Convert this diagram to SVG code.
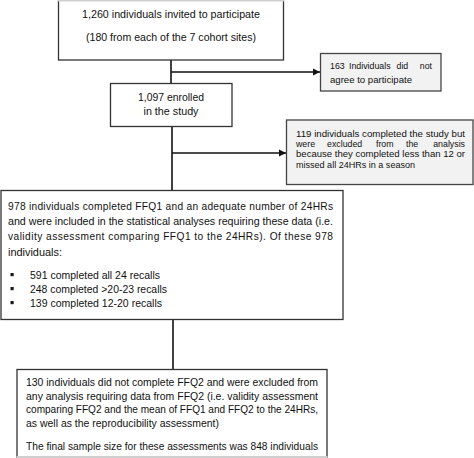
<svg xmlns="http://www.w3.org/2000/svg" width="474" height="458" viewBox="0 0 474 458">
<style>
  .box { fill: #ffffff; stroke: #333333; stroke-width: 1.3; }
  .side { fill: #f2f2f2; stroke: #444444; stroke-width: 1.3; }
  .t { font-family: "Liberation Sans", Arial, sans-serif; font-size: 10.2px; fill: #111111; }
  .s { font-family: "Liberation Sans", Arial, sans-serif; font-size: 8.8px; fill: #111111; }
  .c { text-anchor: middle; }
  .e { text-anchor: end; }
  .conn { fill: none; stroke: #111111; stroke-width: 1.6; }
  .edge { fill: #cfcfcf; }
</style>
<defs>
  <marker id="arrow" viewBox="0 0 10 10" refX="10" refY="5" markerWidth="4.5" markerHeight="4.5" orient="auto" markerUnits="strokeWidth">
    <path d="M0,0 L10,5 L0,10 z" fill="#111111"/>
  </marker>
</defs>
<rect width="474" height="458" fill="#ffffff"/>

<g id="connectors">
  <path class="conn" d="M171,60 V83"/>
  <path class="conn" d="M171,72 H320" marker-end="url(#arrow)"/>
  <path class="conn" d="M172,126 V190"/>
  <path class="conn" d="M172,153 H286" marker-end="url(#arrow)"/>
  <path class="conn" d="M173,320 V369"/>
</g>

<g id="node-invited">
  <rect class="box" x="58.5" y="-2" width="225" height="62"/>
  <rect class="edge" x="58" y="0" width="226" height="1.5"/>
  <text class="t c" x="171" y="17.5" textLength="178" lengthAdjust="spacingAndGlyphs">1,260 individuals invited to participate</text>
  <text class="t c" x="171" y="41" textLength="170" lengthAdjust="spacingAndGlyphs">(180 from each of the 7 cohort sites)</text>
</g>

<g id="node-not-agree">
  <rect class="side" x="320.5" y="53.5" width="120.5" height="37.5"/>
  <text class="s" y="68.5"><tspan x="330">163</tspan><tspan x="349">Individuals</tspan><tspan x="396.5">did</tspan><tspan x="432" class="e">not</tspan></text>
  <text class="s" x="330" y="82.5" textLength="82" lengthAdjust="spacingAndGlyphs">agree to participate</text>
</g>

<g id="node-enrolled">
  <rect class="box" x="110.5" y="83.5" width="121.5" height="43"/>
  <text class="t c" x="171" y="100.5" textLength="66" lengthAdjust="spacingAndGlyphs">1,097 enrolled</text>
  <text class="t c" x="171" y="114.5" textLength="55" lengthAdjust="spacingAndGlyphs">in the study</text>
</g>

<g id="node-excluded">
  <rect class="side" x="286.5" y="120" width="186.5" height="64.5"/>
  <text class="s" x="296" y="137" textLength="169" lengthAdjust="spacingAndGlyphs">119 individuals completed the study but</text>
  <text class="s" y="147.2"><tspan x="296">were</tspan><tspan x="327">excluded</tspan><tspan x="376">from</tspan><tspan x="406">the</tspan><tspan x="465" class="e">analysis</tspan></text>
  <text class="s" x="296" y="157.4" textLength="169" lengthAdjust="spacingAndGlyphs">because they completed less than 12 or</text>
  <text class="s" x="296" y="167.6" textLength="119" lengthAdjust="spacingAndGlyphs">missed all 24HRs in a season</text>
</g>

<g id="node-completed">
  <rect class="box" x="1" y="190.5" width="342" height="129"/>
  <text class="t" x="8" y="209.5" textLength="325" lengthAdjust="spacing">978 individuals completed FFQ1 and an adequate number of 24HRs</text>
  <text class="t" x="8" y="224.5" textLength="325" lengthAdjust="spacingAndGlyphs">and were included in the statistical analyses requiring these data (i.e.</text>
  <text class="t" x="8" y="240" textLength="325" lengthAdjust="spacing">validity assessment comparing FFQ1 to the 24HRs). Of these 978</text>
  <text class="t" x="8" y="255.5" textLength="54" lengthAdjust="spacingAndGlyphs">individuals:</text>
  <rect x="10.5" y="273" width="3.2" height="3.2" fill="#1a1a1a"/>
  <rect x="10.5" y="287" width="3.2" height="3.2" fill="#1a1a1a"/>
  <rect x="10.5" y="301" width="3.2" height="3.2" fill="#1a1a1a"/>
  <text class="t" x="30" y="278.5" textLength="130" lengthAdjust="spacingAndGlyphs">591 completed all 24 recalls</text>
  <text class="t" x="30" y="292.5" textLength="137" lengthAdjust="spacingAndGlyphs">248 completed &gt;20-23 recalls</text>
  <text class="t" x="30" y="306.5" textLength="132" lengthAdjust="spacingAndGlyphs">139 completed 12-20 recalls</text>
</g>

<g id="node-final">
  <rect class="box" x="17" y="369.5" width="310" height="92"/>
  <rect class="edge" x="16.5" y="456" width="311" height="2"/>
  <text class="t" x="26" y="385.5" textLength="292" lengthAdjust="spacingAndGlyphs">130 individuals did not complete FFQ2 and were excluded from</text>
  <text class="t" x="26" y="399.5" textLength="292" lengthAdjust="spacingAndGlyphs">any analysis requiring data from FFQ2 (i.e. validity assessment</text>
  <text class="t" x="26" y="412.8" textLength="292" lengthAdjust="spacingAndGlyphs">comparing FFQ2 and the mean of FFQ1 and FFQ2 to the 24HRs,</text>
  <text class="t" x="26" y="426.5" textLength="193" lengthAdjust="spacingAndGlyphs">as well as the reproducibility assessment)</text>
  <text class="t" x="26" y="449.5" textLength="292" lengthAdjust="spacingAndGlyphs">The final sample size for these assessments was 848 individuals</text>
</g>
</svg>
